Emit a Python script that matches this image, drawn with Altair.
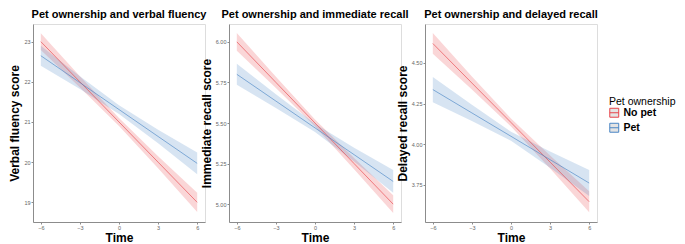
import altair as alt
import pandas as pd

# ---- data ----
times = [-6, -3, 0, 3, 6]
groups = ["No pet", "Pet"]
x_ticks = [-6, -3, 0, 3, 6]

# Verbal fluency
vf_nopet = [23.0, 22.0, 21.0, 20.0, 19.0]
vf_nopet_hw = [0.21, 0.14, 0.10, 0.15, 0.24]
vf_pet = [22.65, 21.98, 21.31, 20.64, 19.97]
vf_pet_hw = [0.25, 0.16, 0.11, 0.17, 0.27]
vf_ticks = [19, 20, 21, 22, 23]

# Immediate recall
ir_nopet = [6.00, 5.75, 5.50, 5.25, 5.00]
ir_nopet_hw = [0.055, 0.035, 0.022, 0.035, 0.055]
ir_pet = [5.80, 5.635, 5.47, 5.305, 5.14]
ir_pet_hw = [0.065, 0.042, 0.026, 0.042, 0.07]
ir_ticks = [5.00, 5.25, 5.50, 5.75, 6.00]

# Delayed recall
dr_nopet = [4.62, 4.376, 4.133, 3.889, 3.645]
dr_nopet_hw = [0.064, 0.04, 0.024, 0.04, 0.065]
dr_pet = [4.336, 4.192, 4.048, 3.904, 3.76]
dr_pet_hw = [0.078, 0.05, 0.028, 0.05, 0.08]
dr_ticks = [3.75, 4.00, 4.25, 4.50]

RED = "#E8434A"
BLUE = "#4A86C5"


def make_df(nopet, nopet_hw, pet, pet_hw):
    rows = []
    for g, fit, hw in (("No pet", nopet, nopet_hw), ("Pet", pet, pet_hw)):
        for t, f, h in zip(times, fit, hw):
            rows.append({"time": t, "group": g, "grp": g, "fit": f, "lo": f - h, "hi": f + h})
    return pd.DataFrame(rows)


LEG = alt.Legend(
    title="Pet ownership",
    symbolType="M-1,-1H1V1H-1Z M-1,0H1",
    symbolSize=80,
    symbolFillColor="#e4e4e4",
    symbolStrokeWidth=1,
    symbolOpacity=1,
    titleFontSize=10.5,
    titleFontWeight="normal",
    labelFontSize=10.5,
    labelFontWeight="bold",
    titleColor="black",
    labelColor="black",
    titlePadding=0,
    rowPadding=1,
    labelOffset=4,
    orient="none",
    legendX=576,
    legendY=73,
    padding=0,
)


def panel(df, title, ytitle, ydomain, yticks, fmt):
    xenc = alt.X(
        "time:Q",
        scale=alt.Scale(domain=[-6.6, 6.6], nice=False, zero=False),
        axis=alt.Axis(values=x_ticks, title="Time", format="d"),
    )
    yscale = alt.Scale(domain=ydomain, nice=False, zero=False)
    yaxis = alt.Axis(values=yticks, title=ytitle, format=fmt)
    band = alt.Chart(df).mark_area(opacity=0.22).encode(
        x=xenc,
        y=alt.Y("lo:Q", scale=yscale, axis=yaxis, stack=None),
        y2="hi:Q",
        fill=alt.Fill("group:N", scale=alt.Scale(range=[RED, BLUE]), legend=None),
    )
    line = alt.Chart(df).mark_line(strokeWidth=0.8, opacity=0.8).encode(
        x=xenc,
        y=alt.Y("fit:Q", scale=yscale, axis=yaxis),
        stroke=alt.Stroke("grp:N", scale=alt.Scale(domain=groups, range=[RED, BLUE]), legend=LEG),
    )
    return (band + line).properties(
        width=172,
        height=198,
        title=alt.TitleParams(title, fontSize=11, fontWeight="bold", anchor="middle", offset=4),
    )


p1 = panel(make_df(vf_nopet, vf_nopet_hw, vf_pet, vf_pet_hw),
           "Pet ownership and verbal fluency", "Verbal fluency score",
           [18.51, 23.44], vf_ticks, "d")
p2 = panel(make_df(ir_nopet, ir_nopet_hw, ir_pet, ir_pet_hw),
           "Pet ownership and immediate recall", "Immediate recall score",
           [4.89, 6.11], ir_ticks, ".2f")
p3 = panel(make_df(dr_nopet, dr_nopet_hw, dr_pet, dr_pet_hw),
           "Pet ownership and delayed recall", "Delayed recall score",
           [3.52, 4.74], dr_ticks, ".2f")

chart = (
    alt.hconcat(p1, p2, p3, spacing=24, bounds="flush")
    .properties(padding=0, background="white")
    .configure_view(stroke=None)
    .configure(font="Liberation Sans")
    .configure_axis(
        grid=False,
        domainColor="#8c8c8c",
        domainWidth=1,
        tickColor="#8c8c8c",
        tickSize=2,
        labelFontSize=5.5,
        labelColor="#666666",
        labelPadding=1,
        titleFontSize=12,
        titleFontWeight="bold",
        titleColor="black",
        titlePadding=2,
    )
    .configure_title(color="black", font="Liberation Sans")
)

chart.save("out.html", embed_options={"renderer": "svg", "actions": False})
